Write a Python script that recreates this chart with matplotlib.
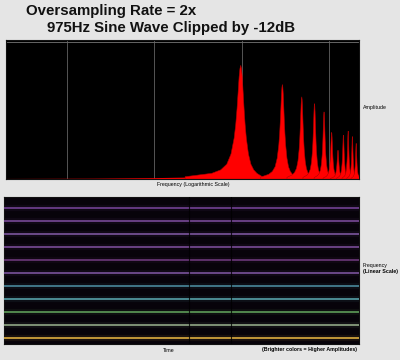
import numpy as np
import matplotlib.pyplot as plt
from matplotlib.colors import LinearSegmentedColormap

plt.rcParams['font.family'] = ['Liberation Sans', 'DejaVu Sans']

# odd harmonics of the clipped 975 Hz sine, peak level (0..1)
harmonic_freqs = [975, 2925, 4875, 6825, 8775, 10725, 12675, 14625, 16575, 18525, 20475]
harmonic_amps = [0.83, 0.69, 0.60, 0.55, 0.49, 0.34, 0.21, 0.32, 0.35, 0.31, 0.26]
# how much wider each peak looks than the fundamental (in Hz)
harmonic_widths = [1.0, 1.7, 2.1, 2.4, 2.7, 2.9, 3.1, 3.2, 3.3, 3.4, 3.5]

# small aliasing bumps between the harmonics
alias_freqs = [3400, 4400, 5800, 7600, 9700, 11600, 13600]
alias_amps = [0.04, 0.05, 0.04, 0.05, 0.04, 0.05, 0.04]

# peak shape: offset in Hz, fraction of peak height
shape_offsets = [0, 20, 40, 65, 90, 120, 155, 220, 300, 400, 520, 750]
shape_fracs = [1.0, 0.97, 0.9, 0.76, 0.62, 0.48, 0.36, 0.22, 0.13, 0.08, 0.05, 0.02]

# noise floor along the bottom of the spectrum
floor_freqs = [2, 20, 100, 300, 600, 2000, 5000, 22050]
floor_amps = [0.004, 0.006, 0.01, 0.015, 0.02, 0.02, 0.025, 0.03]

grid_freqs = [10, 100, 1000, 10000]
time_breaks = [5.21, 6.39]

# amplitude -> colour for the spectrogram
amp_cmap = LinearSegmentedColormap.from_list('amp', [
    (0.0, '#000000'), (0.12, '#160820'), (0.21, '#62336f'), (0.26, '#673b86'),
    (0.31, '#6c4288'), (0.35, '#6f4d8e'), (0.49, '#437a8c'), (0.55, '#4f8f98'),
    (0.60, '#558c50'), (0.69, '#84977a'), (0.83, '#c89c3a'), (1.0, '#e8b83c')])

W, H = 400, 360
fig = plt.figure(figsize=(W / 100, H / 100), dpi=100, facecolor='#e5e5e5')


def fx(px):
    return px / W


def fy(py):
    return 1 - py / H


def peak_outline(f0, amp, width=1.0):
    off = np.array(shape_offsets, float) * width
    frac = np.array(shape_fracs)
    xs = np.concatenate([f0 - off[::-1], f0 + off[1:]])
    ys = amp * np.concatenate([frac[::-1], frac[1:]])
    xs = np.concatenate([[xs[0]], xs, [xs[-1]]])
    ys = np.concatenate([[0], ys, [0]])
    return xs, ys


# ---- spectrum ----
ax1 = fig.add_axes([fx(6), fy(179), fx(353), 139 / H])
ax1.set_facecolor('black')
ax1.set_xscale('log')
ax1.set_xlim(2, 22050)
ax1.set_ylim(0, 139 / 137)
for g in grid_freqs:
    ax1.axvline(g, color='#555555', lw=0.7, zorder=1)
ax1.axhline(1.0, color='#666666', lw=0.7, zorder=1)

ax1.fill_between(floor_freqs, 0, floor_amps, color='#ff0000', lw=0, zorder=2)
for f, a in zip(alias_freqs, alias_amps):
    xs, ys = peak_outline(f, a, 2.0)
    ax1.fill(xs, ys, facecolor='#ff0000', edgecolor='#b00000', lw=0.4, zorder=3)
for f, a, w in zip(harmonic_freqs, harmonic_amps, harmonic_widths):
    xs, ys = peak_outline(f, a, w)
    ax1.fill(xs, ys, facecolor='#ff0000', edgecolor='#b00000', lw=0.4, zorder=3)

ax1.set_xticks([])
ax1.set_yticks([])
ax1.minorticks_off()
for s in ax1.spines.values():
    s.set_color('#111111')

# ---- spectrogram ----
ax2 = fig.add_axes([fx(4), fy(344), fx(355), 147 / H])
ax2.set_facecolor('#07030a')
ax2.set_xlim(0, 10)
ax2.set_ylim(0, 22050)
for f, a in zip(harmonic_freqs, harmonic_amps):
    c = amp_cmap(a)
    ax2.hlines(f, 0, 10, color=c, lw=4.5, alpha=0.09, zorder=2)
    ax2.hlines(f, 0, 10, color=c, lw=1.35, zorder=3)
for t in time_breaks:
    ax2.axvline(t, color='black', lw=0.8, alpha=0.8, zorder=4)
ax2.set_xticks([])
ax2.set_yticks([])
for s in ax2.spines.values():
    s.set_color('#111111')

# ---- text ----
fig.text(fx(26), fy(11), 'Oversampling Rate = 2x', fontsize=10.8,
         fontweight='bold', color='#111111', ha='left', va='center')
fig.text(fx(47), fy(28), '975Hz Sine Wave Clipped by -12dB', fontsize=10.8,
         fontweight='bold', color='#111111', ha='left', va='center')

small = dict(fontsize=3.8, color='#000000', va='center')
fig.text(fx(193), fy(185), 'Frequency (Logarithmic Scale)', ha='center', **small)
fig.text(fx(363), fy(107), 'Amplitude', ha='left', **small)
fig.text(fx(363), fy(266), 'Frequency', ha='left', **small)
fig.text(fx(363), fy(271.5), '(Linear Scale)', ha='left', fontweight='bold', **small)
fig.text(fx(168.5), fy(350), 'Time', ha='center', **small)
fig.text(fx(357), fy(350), '(Brighter colors = Higher Amplitudes)', ha='right',
         fontweight='bold', **small)

fig.savefig('out.png', dpi=100, facecolor=fig.get_facecolor())
